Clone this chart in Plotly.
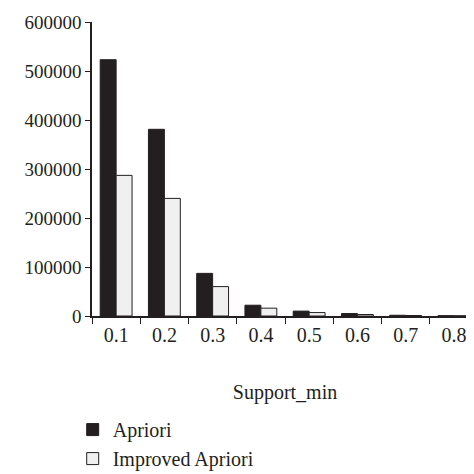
import plotly.graph_objects as go

categories = ["0.1", "0.2", "0.3", "0.4", "0.5", "0.6", "0.7", "0.8"]
apriori = [523000, 381000, 87000, 22000, 10000, 5000, 1500, 600]
improved = [287000, 240000, 60000, 16000, 7000, 3000, 1000, 400]
y_ticks = [0, 100000, 200000, 300000, 400000, 500000, 600000]

font = dict(family="Liberation Serif, serif", size=19, color="#231f20")
fig = go.Figure()
fig.add_bar(x=categories, y=apriori, name="Apriori",
            marker=dict(color="#231f20", line=dict(color="#231f20", width=1)))
fig.add_bar(x=categories, y=improved, name="Improved Apriori",
            marker=dict(color="#f0f0f0", line=dict(color="#231f20", width=1)))
fig.update_layout(
    width=474, height=474, paper_bgcolor="white", plot_bgcolor="white",
    margin=dict(l=84, r=4, t=12, b=153), font=font,
    barmode="group", bargap=0.34, bargroupgap=0,
    legend=dict(x=-0.05, y=-0.32, xanchor="left", yanchor="top",
                font=dict(size=20), tracegroupgap=0, itemwidth=30),
    xaxis=dict(showline=True, linecolor="#231f20", linewidth=1.5,
               ticks="outside", ticklen=6, tickcolor="#231f20",
               tickson="boundaries", tickfont=dict(size=20),
               title=dict(text="Support_min", font=dict(size=20), standoff=40)),
    yaxis=dict(range=[0, 600000], tickvals=y_ticks, tickformat="d",
               showline=True, linecolor="#231f20", linewidth=1.5,
               ticks="outside", ticklen=5, tickcolor="#231f20",
               showgrid=False, zeroline=False, tickfont=dict(size=19)),
)
fig.write_html("out.html")
